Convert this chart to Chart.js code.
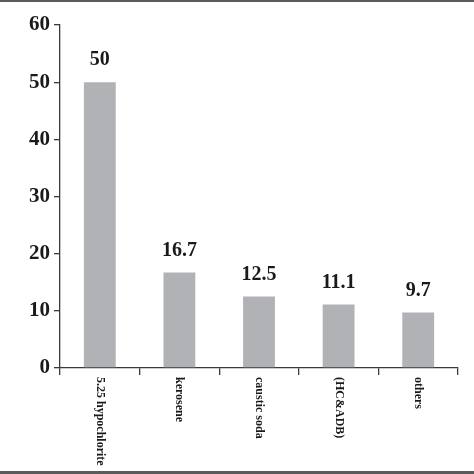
<!DOCTYPE html>
<html>
<head>
<meta charset="utf-8">
<script src="https://cdn.jsdelivr.net/npm/chart.js@4/dist/chart.umd.min.js"></script>
<style>
  html, body { margin: 0; padding: 0; background: #fff; }
  #wrap { width: 474px; height: 474px; position: relative; }
</style>
</head>
<body>
<div id="wrap"><canvas id="barChart"></canvas></div>
<script>
    // data
    var categories = ["5.25 hypochlorite", "kerosene", "caustic soda", "(HC&ADB)", "others"];
    var values = [50, 16.7, 12.5, 11.1, 9.7];
    var valueLabels = ["50", "16.7", "12.5", "11.1", "9.7"];
    var yTicks = [0, 10, 20, 30, 40, 50, 60];

    var serif = "'Liberation Serif', 'DejaVu Serif', serif";
    var axisColor = "#3a3a3a";

    // frame bands top and bottom
    var framePlugin = {
        id: "frame",
        beforeDraw: function (chart) {
            var c = chart.ctx;
            c.save();
            c.fillStyle = "#fff";
            c.fillRect(0, 0, chart.width, chart.height);
            c.fillStyle = "#5b5b5b";
            c.fillRect(0, 0, chart.width, 2);
            c.fillRect(0, chart.height - 3, chart.width, 3);
            c.restore();
        }
    };

    // numbers above the bars
    var valuePlugin = {
        id: "values",
        afterDatasetsDraw: function (chart) {
            var c = chart.ctx;
            var meta = chart.getDatasetMeta(0);
            c.save();
            c.font = "bold 20px " + serif;
            c.fillStyle = "#1a1a1a";
            c.textAlign = "center";
            c.textBaseline = "alphabetic";
            meta.data.forEach(function (bar, i) {
                c.fillText(valueLabels[i], bar.x, bar.y - 17);
            });
            c.restore();
        }
    };

    // category names turned to read top to bottom
    var xLabelPlugin = {
        id: "xlabels",
        afterDraw: function (chart) {
            var c = chart.ctx;
            var xs = chart.scales.x;
            c.save();
            c.font = "bold 12px " + serif;
            c.fillStyle = "#1a1a1a";
            c.textAlign = "left";
            c.textBaseline = "middle";
            categories.forEach(function (name, i) {
                var x = xs.getPixelForTick(i);
                c.save();
                c.translate(x, xs.top + 9);
                c.rotate(Math.PI / 2);
                c.fillText(name, 0, 0);
                c.restore();
            });
            c.restore();
        }
    };

    var ctx = document.getElementById("barChart").getContext("2d");
    var chart = new Chart(ctx, {
        type: "bar",
        data: {
            labels: categories,
            datasets: [{
                data: values,
                backgroundColor: "#b1b2b5",
                borderWidth: 0,
                categoryPercentage: 1.0,
                barPercentage: 0.4
            }]
        },
        options: {
            responsive: true,
            maintainAspectRatio: false,
            animation: false,
            layout: { padding: { top: 25, right: 16, bottom: 0, left: 0 } },
            plugins: {
                legend: { display: false },
                tooltip: { enabled: false }
            },
            scales: {
                x: {
                    grid: {
                        offset: true,
                        drawOnChartArea: false,
                        drawTicks: true,
                        tickLength: 7,
                        color: axisColor,
                        lineWidth: 1.3
                    },
                    border: { color: axisColor, width: 1.3 },
                    ticks: { display: false },
                    afterFit: function (scale) { scale.height = 106; }
                },
                y: {
                    min: 0,
                    max: 60,
                    afterBuildTicks: function (scale) {
                        scale.ticks = yTicks.map(function (v) { return { value: v }; });
                    },
                    grid: {
                        drawOnChartArea: false,
                        drawTicks: true,
                        tickLength: 6,
                        color: axisColor,
                        lineWidth: 1.3
                    },
                    border: { color: axisColor, width: 1.3 },
                    ticks: {
                        padding: 4,
                        color: "#1a1a1a",
                        font: { family: serif, size: 21, weight: "bold" }
                    },
                    afterFit: function (scale) { scale.width = 60; }
                }
            }
        },
        plugins: [framePlugin, valuePlugin, xLabelPlugin]
    });
</script>
</body>
</html>
